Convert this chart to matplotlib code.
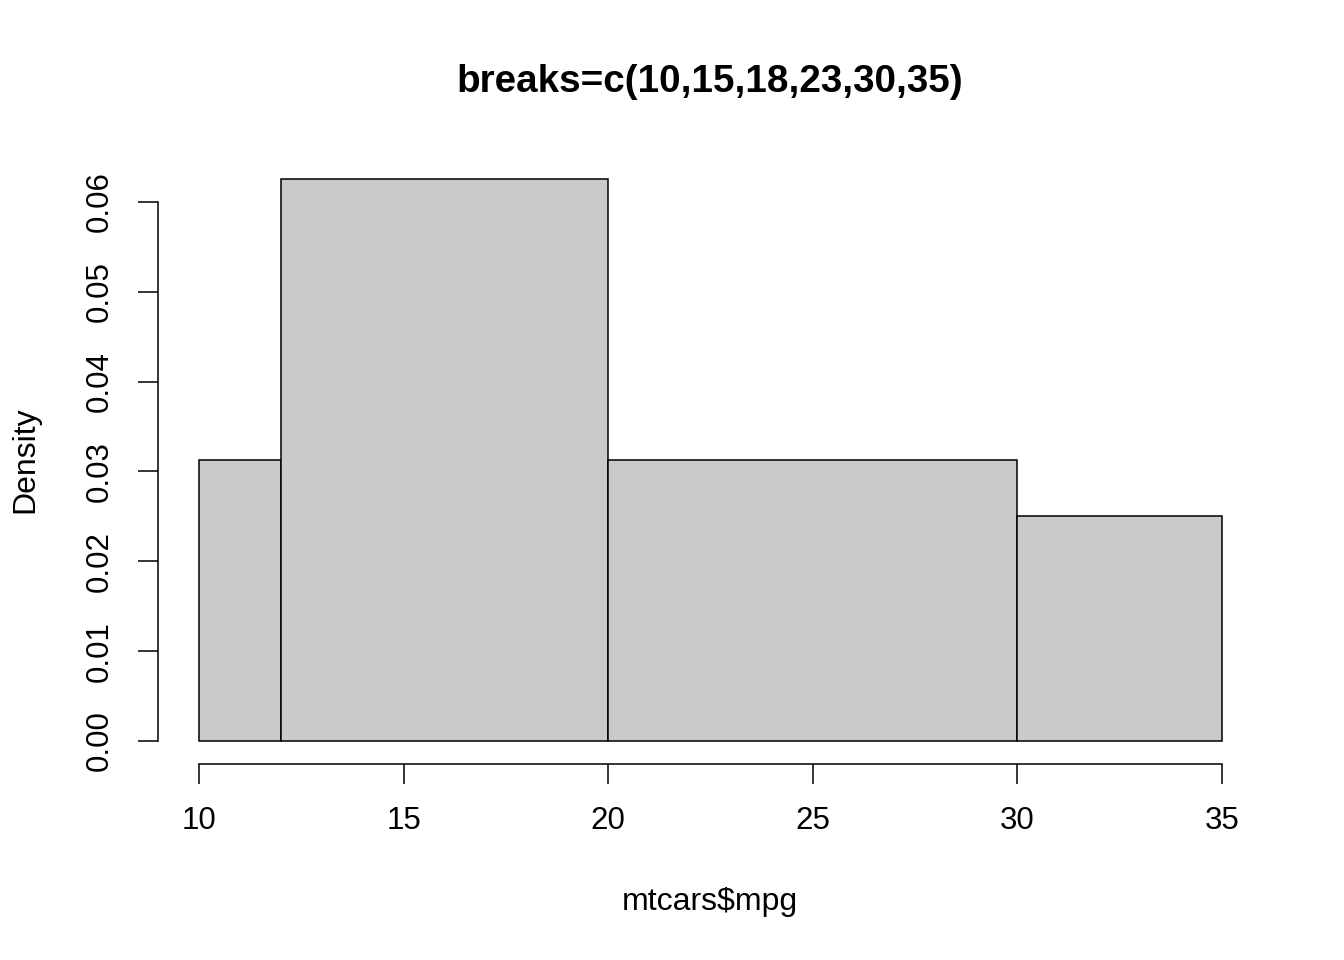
import numpy as np
import matplotlib.pyplot as plt

# histogram of mtcars$mpg, density scale
breaks = [10, 12, 20, 30, 35]
density = [0.03125, 0.0625, 0.03125, 0.025]
x_ticks = [10, 15, 20, 25, 30, 35]
y_ticks = [0.00, 0.01, 0.02, 0.03, 0.04, 0.05, 0.06]
y_labels = ["0.00", "0.01", "0.02", "0.03", "0.04", "0.05", "0.06"]

plt.rcParams['font.family'] = ['Liberation Sans', 'DejaVu Sans']


def main():
    fig = plt.figure(figsize=(13.44, 9.6), dpi=100)
    ax = fig.add_axes([158 / 1344, 1 - 763.5 / 960, (1263 - 158) / 1344, (763.5 - 157) / 960])

    widths = np.diff(breaks)
    ax.bar(breaks[:-1], density, width=widths, align='edge',
           color='#cacaca', edgecolor='black', linewidth=1.1)

    # R style: 4% extension of ranges
    xr = breaks[-1] - breaks[0]
    ax.set_xlim(breaks[0] - 0.04 * xr, breaks[-1] + 0.04 * xr)
    ymax = max(density)
    ax.set_ylim(-0.04 * ymax, ymax * 1.04)

    for s in ['top', 'right']:
        ax.spines[s].set_visible(False)
    ax.spines['left'].set_bounds(y_ticks[0], y_ticks[-1])
    ax.spines['bottom'].set_bounds(x_ticks[0], x_ticks[-1])
    ax.spines['left'].set_linewidth(1.1)
    ax.spines['bottom'].set_linewidth(1.1)

    ax.set_xticks(x_ticks)
    ax.set_xticklabels([str(v) for v in x_ticks])
    ax.set_yticks(y_ticks)
    ax.set_yticklabels(y_labels, rotation=90, va='center')
    ax.tick_params(axis='both', length=14.4, width=1.1, labelsize=22.5)
    ax.tick_params(axis='x', pad=16)
    ax.tick_params(axis='y', pad=17)

    fig.text(710 / 1344, 1 - 82 / 960, "breaks=c(10,15,18,23,30,35)",
             ha='center', va='center', fontsize=27.8, fontweight='bold')
    fig.text(710 / 1344, 1 - 902 / 960, "mtcars$mpg",
             ha='center', va='center', fontsize=23)
    fig.text(25 / 1344, 1 - 460 / 960, "Density", rotation=90,
             ha='center', va='center', fontsize=23)

    fig.savefig("out.png", dpi=100)


if __name__ == "__main__":
    main()
